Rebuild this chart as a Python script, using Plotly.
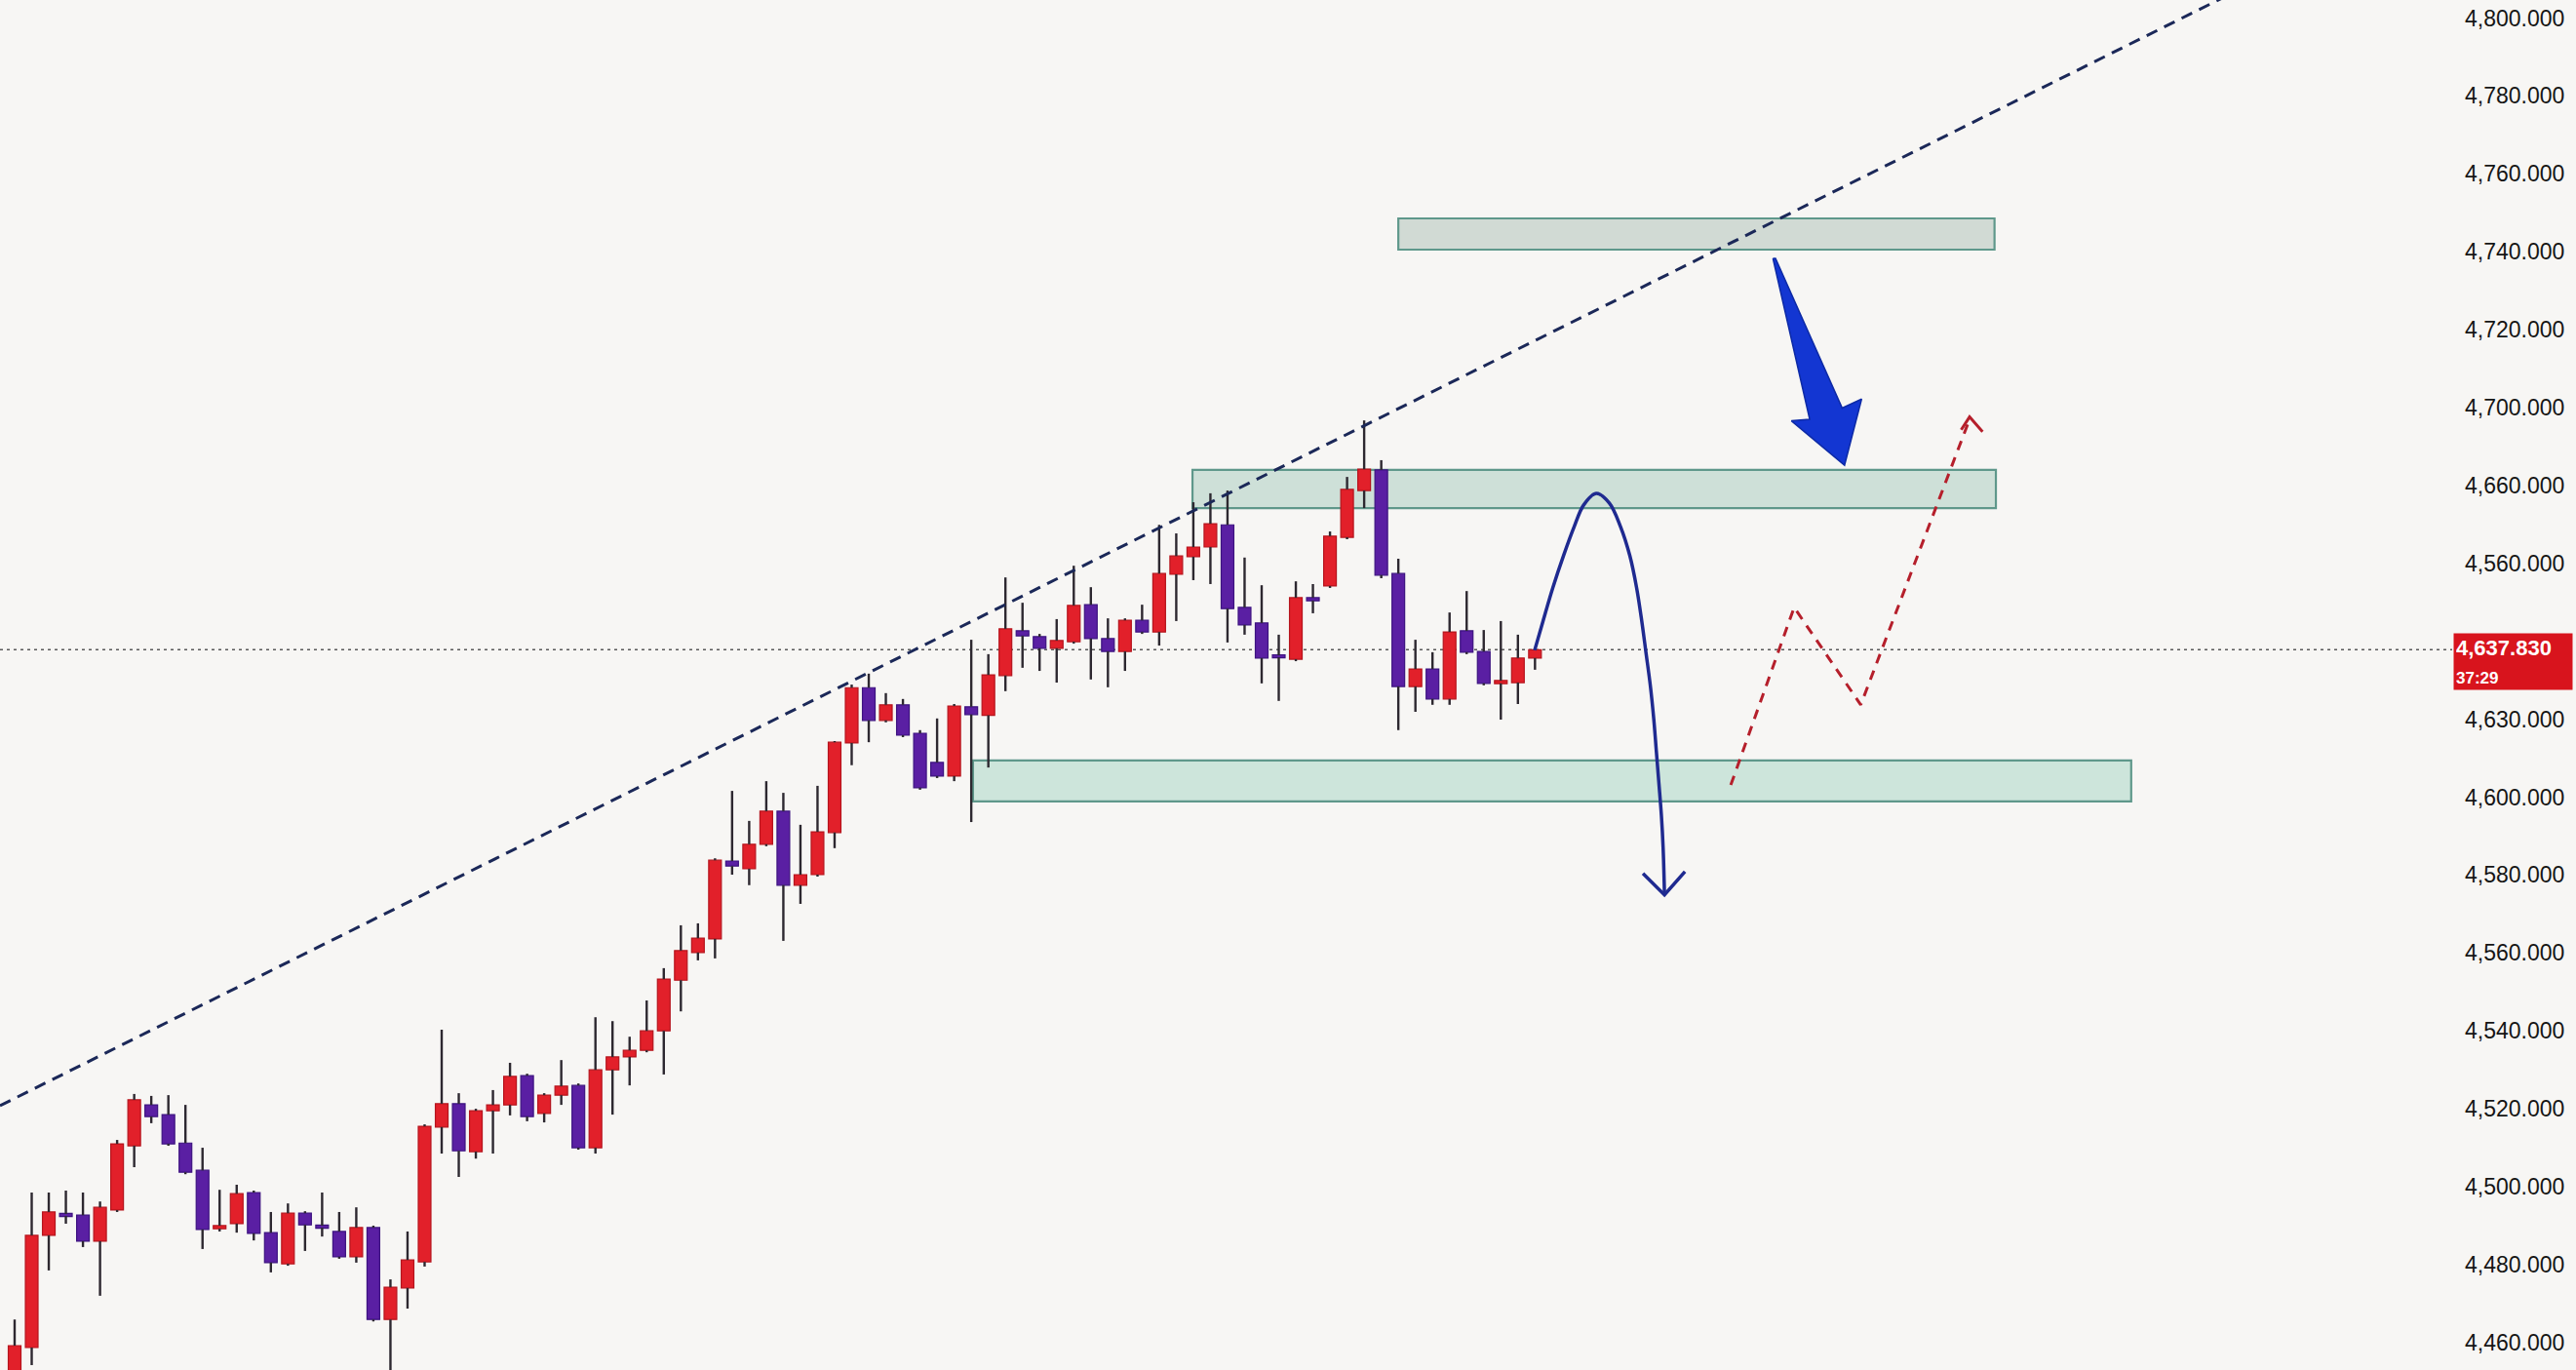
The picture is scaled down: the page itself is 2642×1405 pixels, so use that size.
import plotly.graph_objects as go

# ---------------- data ----------------
opens = [4449.2, 4458.7, 4487.5, 4493.0, 4492.7, 4486.0, 4494.0, 4510.5, 4521.0, 4518.5,
         4511.2, 4504.2, 4489.2, 4490.5, 4498.5, 4488.2, 4480.2, 4493.2, 4490.0, 4488.5,
         4482.0, 4489.5, 4465.9, 4474.0, 4480.7, 4515.3, 4521.3, 4509.0, 4519.5, 4521.0,
         4528.5, 4518.8, 4523.5, 4526.0, 4510.0, 4530.0, 4533.3, 4535.0, 4540.0, 4553.0,
         4560.1, 4563.6, 4583.6, 4581.6, 4587.9, 4596.4, 4577.4, 4580.1, 4590.9, 4613.9,
         4628.1, 4619.7, 4623.7, 4616.4, 4608.9, 4605.4, 4623.2, 4621.0, 4631.2, 4642.7,
         4641.2, 4638.2, 4639.9, 4649.4, 4640.7, 4637.4, 4645.4, 4642.4, 4657.2, 4661.7,
         4664.2, 4669.9, 4648.7, 4644.7, 4636.4, 4635.4, 4651.2, 4654.2, 4666.7, 4678.7,
         4684.0, 4657.4, 4628.4, 4632.9, 4625.2, 4642.7, 4637.4, 4629.2, 4629.4, 4635.7]
highs = [4465.9, 4498.5, 4498.5, 4499.0, 4498.5, 4496.2, 4512.0, 4523.8, 4523.3, 4523.5,
         4521.0, 4510.0, 4499.2, 4500.5, 4499.0, 4493.5, 4495.7, 4493.7, 4498.5, 4493.5,
         4494.7, 4490.0, 4476.2, 4488.5, 4516.0, 4540.3, 4524.0, 4520.0, 4524.8, 4531.8,
         4529.0, 4524.0, 4532.5, 4526.5, 4543.5, 4542.5, 4538.5, 4547.8, 4556.1, 4567.1,
         4567.6, 4584.3, 4601.6, 4593.9, 4604.1, 4601.1, 4592.9, 4602.9, 4614.4, 4628.9,
         4631.7, 4626.7, 4625.2, 4617.2, 4620.2, 4623.9, 4640.4, 4636.7, 4656.4, 4649.9,
         4641.9, 4645.7, 4659.4, 4653.9, 4645.9, 4645.9, 4649.4, 4669.9, 4667.7, 4675.7,
         4678.0, 4678.7, 4661.5, 4654.4, 4641.7, 4655.4, 4654.7, 4668.2, 4682.2, 4696.7,
         4686.5, 4661.2, 4640.4, 4637.2, 4647.4, 4652.9, 4642.9, 4645.2, 4641.7, 4638.0]
lows = [4446.7, 4454.2, 4478.5, 4490.5, 4484.5, 4472.0, 4493.5, 4505.0, 4516.3, 4510.5,
        4503.2, 4484.0, 4488.5, 4488.2, 4486.2, 4478.0, 4479.7, 4483.5, 4487.2, 4481.5,
        4480.5, 4465.4, 4450.0, 4468.7, 4479.5, 4508.5, 4502.5, 4507.2, 4508.5, 4518.3,
        4516.8, 4516.5, 4521.0, 4509.5, 4508.5, 4518.5, 4526.0, 4534.5, 4528.8, 4545.0,
        4558.1, 4558.6, 4580.1, 4577.4, 4587.4, 4563.1, 4572.6, 4579.6, 4586.9, 4608.2,
        4614.1, 4619.2, 4615.4, 4601.9, 4604.9, 4604.1, 4593.6, 4607.6, 4627.2, 4633.2,
        4632.4, 4629.4, 4639.4, 4630.2, 4628.2, 4632.4, 4641.9, 4638.9, 4645.2, 4655.7,
        4654.7, 4639.7, 4641.7, 4629.2, 4624.7, 4634.9, 4647.2, 4653.7, 4666.2, 4674.2,
        4656.2, 4617.2, 4621.9, 4623.7, 4623.7, 4636.7, 4628.7, 4619.9, 4623.9, 4632.7]
closes = [4459.2, 4487.5, 4493.5, 4492.5, 4486.0, 4494.7, 4511.0, 4522.3, 4518.0, 4511.0,
          4503.7, 4489.0, 4490.0, 4498.2, 4488.0, 4480.5, 4493.2, 4490.2, 4489.5, 4482.0,
          4489.5, 4465.9, 4474.2, 4481.2, 4515.5, 4521.3, 4509.2, 4519.5, 4521.0, 4528.3,
          4518.0, 4523.5, 4525.8, 4510.0, 4530.0, 4533.3, 4535.0, 4540.0, 4553.3, 4560.6,
          4563.8, 4583.8, 4582.3, 4587.9, 4596.4, 4577.4, 4580.1, 4591.1, 4614.1, 4628.1,
          4619.7, 4623.7, 4615.9, 4602.4, 4605.4, 4623.4, 4621.2, 4631.4, 4643.2, 4641.4,
          4638.2, 4640.2, 4649.2, 4640.7, 4637.4, 4645.4, 4642.4, 4657.4, 4661.9, 4664.2,
          4670.2, 4648.4, 4644.2, 4635.7, 4635.9, 4651.2, 4650.4, 4667.0, 4679.0, 4684.2,
          4657.0, 4628.4, 4632.9, 4625.2, 4642.4, 4637.2, 4629.2, 4629.9, 4635.7, 4637.83]

last_price = 4637.83
last_price_text = "4,637.830"
countdown_text = "37:29"

# tick labels as printed in the reference (the 4,640 label is hidden under the price tag)
tick_values = [4800, 4780, 4760, 4740, 4720, 4700, 4680, 4660,
               4620, 4600, 4580, 4560, 4540, 4520, 4500, 4480, 4460]
tick_labels = ["4,800.000", "4,780.000", "4,760.000", "4,740.000", "4,720.000",
               "4,700.000", "4,660.000", "4,560.000", "4,630.000",
               "4,600.000", "4,580.000", "4,560.000", "4,540.000", "4,520.000",
               "4,500.000", "4,480.000", "4,460.000"]

# zones (x in bar index, prices)
zone_x0 = [81.0, 68.95, 56.1]
zone_x1 = [115.9, 115.98, 123.9]
zone_lo = [4740.55, 4674.2, 4598.9]
zone_hi = [4748.56, 4684.0, 4609.4]
zone_fill = ["rgba(196,208,202,0.75)", "rgba(186,214,202,0.68)", "rgba(184,220,207,0.66)"]

# trend line
trend_x = [-0.856, 131.0]
trend_y = [4520.8, 4809.0]

# projected bearish curve (blue) and its arrow head
curve_x = [88.98, 89.47, 90.04, 90.67, 91.30, 91.85, 92.58, 93.35, 94.00, 94.55,
           94.95, 95.25, 95.50, 95.75, 95.95, 96.10, 96.25, 96.40, 96.50, 96.58]
curve_y = [4637.7, 4645.2, 4653.7, 4662.0, 4669.5, 4675.0, 4678.0, 4675.5, 4669.5, 4662.0,
           4653.7, 4645.2, 4637.0, 4628.7, 4620.2, 4612.0, 4603.7, 4595.2, 4587.0, 4575.1]
curve_head_x = [95.32, 96.58, 97.78]
curve_head_y = [4580.4, 4574.9, 4580.9]

# big blue arrow polygon
big_arrow_x = [102.93, 103.08, 106.98, 108.12, 107.12, 104.01, 105.08, 102.93]
big_arrow_y = [4738.3, 4738.3, 4699.9, 4702.2, 4685.2, 4696.6, 4697.0, 4738.3]

# red dashed bullish path
path_x = [100.46, 104.17, 108.07, 114.44]
path_y = [4603.1, 4648.7, 4623.7, 4697.0]
path_head_x = [113.95, 114.44, 115.2]
path_head_y = [4694.3, 4697.6, 4693.8]

# ---------------- build ----------------
idx = list(range(len(opens)))

wick_x, wick_y = [], []
for i, o, h, l, c in zip(idx, opens, highs, lows, closes):
    top, bot = max(o, c), min(o, c)
    wick_x += [i, i, None, i, i, None]
    wick_y += [h, top, None, bot, l, None]

up = [i for i in idx if closes[i] >= opens[i]]
dn = [i for i in idx if closes[i] < opens[i]]


def bodies(ids):
    bases, sizes = [], []
    for i in ids:
        size = max(abs(closes[i] - opens[i]), 0.8)
        mid = (opens[i] + closes[i]) / 2
        bases.append(mid - size / 2)
        sizes.append(size)
    return bases, sizes


ub, us = bodies(up)
db, ds = bodies(dn)

fig = go.Figure()

fig.add_trace(go.Scatter(x=wick_x, y=wick_y, mode="lines",
                         line=dict(color="#2d2830", width=2.4),
                         hoverinfo="skip", showlegend=False))
fig.add_trace(go.Bar(x=up, y=us, base=ub, width=0.74,
                     marker=dict(color="#e2202a", line=dict(color="#b5141d", width=1.2)),
                     showlegend=False))
fig.add_trace(go.Bar(x=dn, y=ds, base=db, width=0.74,
                     marker=dict(color="#5a1fa3", line=dict(color="#3d1380", width=1.2)),
                     showlegend=False))

# trend line
fig.add_trace(go.Scatter(x=trend_x, y=trend_y, mode="lines",
                         line=dict(color="#1b2858", width=3, dash="12px,8px"),
                         hoverinfo="skip", showlegend=False))

# blue curve
fig.add_trace(go.Scatter(x=curve_x, y=curve_y, mode="lines",
                         line=dict(color="#1f2a90", width=3.5, shape="spline", smoothing=1.0),
                         hoverinfo="skip", showlegend=False))
fig.add_trace(go.Scatter(x=curve_head_x, y=curve_head_y, mode="lines",
                         line=dict(color="#1f2a90", width=3.5),
                         hoverinfo="skip", showlegend=False))

# big blue arrow
fig.add_trace(go.Scatter(x=big_arrow_x, y=big_arrow_y, mode="lines", fill="toself",
                         fillcolor="#1336d2", line=dict(color="#0d2aa6", width=1.5),
                         hoverinfo="skip", showlegend=False))

# red dashed path
fig.add_trace(go.Scatter(x=path_x, y=path_y, mode="lines",
                         line=dict(color="#b51f2b", width=3, dash="10px,8px"),
                         hoverinfo="skip", showlegend=False))
fig.add_trace(go.Scatter(x=path_head_x, y=path_head_y, mode="lines",
                         line=dict(color="#b51f2b", width=3),
                         hoverinfo="skip", showlegend=False))

# zones
for x0, x1, lo, hi, fc in zip(zone_x0, zone_x1, zone_lo, zone_hi, zone_fill):
    fig.add_shape(type="rect", xref="x", yref="y", x0=x0, x1=x1, y0=lo, y1=hi,
                  fillcolor=fc, line=dict(color="#5f988b", width=2.2), layer="below")

# last price line
fig.add_shape(type="line", xref="paper", yref="y", x0=0, x1=1, y0=last_price, y1=last_price,
              line=dict(color="#5a5a5a", width=1.5, dash="3px,4px"), layer="below")

fig.add_annotation(xref="paper", x=1, xanchor="left", xshift=1,
                   yref="y", y=last_price, yanchor="top", yshift=17,
                   text="<b>" + last_price_text + "</b><br><b><span style='font-size:17px'>"
                        + countdown_text + "</span></b>",
                   showarrow=False, align="left", bgcolor="#d8141d",
                   font=dict(color="white", size=22, family="Liberation Sans, Arial, sans-serif"),
                   width=117, height=53, borderpad=2)

fig.update_layout(
    width=2642, height=1405,
    margin=dict(l=0, r=127, t=0, b=0),
    paper_bgcolor="#f7f6f4", plot_bgcolor="#f7f6f4",
    barmode="overlay", showlegend=False,
    xaxis=dict(range=[-0.856, 142.69], visible=False, fixedrange=True),
    yaxis=dict(range=[4452.94, 4804.63], side="right", showgrid=False, zeroline=False,
               showline=False, ticks="", tickvals=tick_values, ticktext=tick_labels,
               ticklabelstandoff=12,
               tickfont=dict(family="Liberation Sans, Arial, sans-serif", size=23, color="#151515"),
               fixedrange=True),
)

fig.write_html("out.html", config={"displayModeBar": False},
               post_script="document.body.style.margin='0';document.body.style.padding='0';"
                           "document.body.style.overflow='hidden';"
                           "document.body.style.background='#f7f6f4';")
